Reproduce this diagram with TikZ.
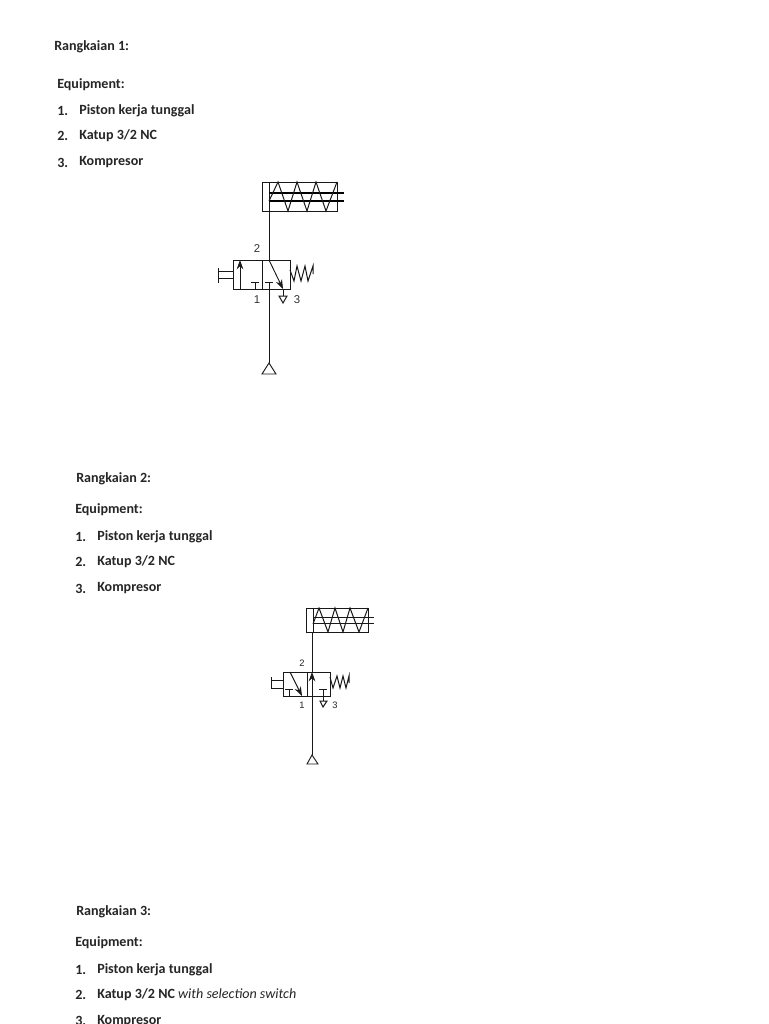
\documentclass[tikz,border=0pt]{standalone}
\usepackage{fontspec}
\setmainfont{Carlito}
\newfontfamily\labelfont{Liberation Sans}
\usetikzlibrary{arrows.meta}
\tikzset{
  doc/.style={anchor=west,inner sep=0pt,font=\fontsize{10.55}{12}\selectfont\bfseries,text=black!85},
  port/.style={inner sep=0pt,font=\labelfont\fontsize{8.5}{10}\selectfont,text=black!80},
  portsmall/.style={inner sep=0pt,font=\labelfont\fontsize{7}{8}\selectfont,text=black!85},
  pn/.style={draw=black!90,line width=0.7pt,line join=miter},
  pnthin/.style={draw=black!90,line width=0.75pt},
  rod/.style={draw=black,line width=1.2pt},
  flow/.style={draw=black!90,line width=0.7pt,-{Stealth[length=7pt,width=5pt]}},
}
\begin{document}
\begin{tikzpicture}[x=0.75pt,y=-0.75pt]
\useasboundingbox (0,0) rectangle (768,1024);
\fill[white] (0,0) rectangle (768,1024);
% --- text block 1
\node[doc] (t1) at (54,47) {Rangkaian 1:};
\node[doc] (e1) at (57,85) {Equipment:};
\node[doc] (n11) at (57,111) {1.};\node[doc] (i11) at (79,111) {Piston kerja tunggal};
\node[doc] (n12) at (57,136) {2.};\node[doc] (i12) at (79,136) {Katup 3/2 NC};
\node[doc] (n13) at (57,162.5) {3.};\node[doc] (i13) at (79,162.5) {Kompresor};
% --- text block 2
\node[doc] (t2) at (76,479) {Rangkaian 2:};
\node[doc] (e2) at (75,510) {Equipment:};
\node[doc] (n21) at (75,537) {1.};\node[doc] (i21) at (97,537) {Piston kerja tunggal};
\node[doc] (n22) at (75,562) {2.};\node[doc] (i22) at (97,562) {Katup 3/2 NC};
\node[doc] (n23) at (75,588.5) {3.};\node[doc] (i23) at (97,588.5) {Kompresor};
% --- text block 3
\node[doc] (t3) at (76,912) {Rangkaian 3:};
\node[doc] (e3) at (75,943) {Equipment:};
\node[doc] (n31) at (75,970) {1.};\node[doc] (i31) at (97,970) {Piston kerja tunggal};
\node[doc] (n32) at (75,995) {2.};\node[doc] (i32) at (97,995) {Katup 3/2 NC \textit{\mdseries with selection switch}};
\node[doc] (n33) at (75,1021) {3.};\node[doc] (i33) at (97,1021) {Kompresor};
% --- circuit 1
\coordinate (c1) at (269,211);\coordinate (v1top) at (269,260);
\coordinate (v1in) at (269,282);\coordinate (s1) at (269,363);
\draw[pn] (262,182) rectangle (337,211);
\draw[pn] (269,182) -- (269,211);
\draw[rod] (269,193) -- (344,193) (269,201) -- (344,201);
\draw[pnthin] (269,201) -- (278,182) -- (288,211) -- (297,182) -- (307,211) -- (316,182) -- (326,211) -- (337,182);
\draw[pn] (c1) -- (v1top);
\draw[pn] (233,260) rectangle (290,289);
\draw[pn] (262,260) -- (262,289);
\draw[flow] (240,289) -- (240,260);
\draw[pn] (255,289) -- (255,282) (251,282) -- (259,282);
\draw[pn] (265,282) -- (273,282);
\draw[flow] (v1top) -- (283,289);
\draw[pn] (v1in) -- (s1);
\draw[pn] (283,289) -- (283,296);
\draw[pnthin] (279,296) -- (287,296) -- (283,303) -- cycle;
\draw[pn] (218,271) -- (233,271) (218,278) -- (233,278);
\draw[pn] (218,268) -- (218,283);
\draw[pnthin] (290,270) -- (294,281) -- (297,266) -- (301,281) -- (305,266) -- (308,281) -- (313,266) -- (313,274);
\draw[pn] (s1) -- (262,374) -- (276,374) -- cycle;
\node[port] (p12) at (257,249) {2};
\node[port] (p11) at (257,300) {1};
\node[port] (p13) at (297,300) {3};
% --- circuit 2
\coordinate (c2) at (312,632);\coordinate (v2top) at (312,672);
\coordinate (v2bot) at (312,696);\coordinate (s2) at (312,755);
\draw[pn] (306,608) rectangle (368,632);
\draw[pn] (313,608) -- (313,632);
\draw[pn] (313,617) -- (374,617) (313,623) -- (374,623);
\draw[pnthin] (313,624) -- (319,608) -- (328,632) -- (335,608) -- (343,632) -- (350,608) -- (359,632) -- (368,608);
\draw[pn] (c2) -- (v2top);
\draw[pn] (283,672) rectangle (330,696);
\draw[pn] (307,672) -- (307,696);
\draw[flow] (v2bot) -- (v2top);
\draw[flow] (290,672) -- (302,696);
\draw[pn] (289,696) -- (289,689) (285,689) -- (293,689);
\draw[pn] (323,696) -- (323,689) (319,689) -- (327,689);
\draw[pn] (323,696) -- (323,701);
\draw[pnthin] (320,701) -- (327,701) -- (323,707) -- cycle;
\draw[pn] (v2bot) -- (s2);
\draw[pn] (271,680) -- (283,680) (271,688) -- (283,688);
\draw[pn] (271,677) -- (271,689);
\draw[pnthin] (330,677) -- (333,688) -- (337,676) -- (340,688) -- (343,676) -- (346,688) -- (349,676) -- (349,683);
\draw[pn] (s2) -- (307,764) -- (318,764) -- cycle;
\node[portsmall] (p22) at (302,663) {2};
\node[portsmall] (p21) at (302,705) {1};
\node[portsmall] (p23) at (335,705) {3};
\end{tikzpicture}
\end{document}
